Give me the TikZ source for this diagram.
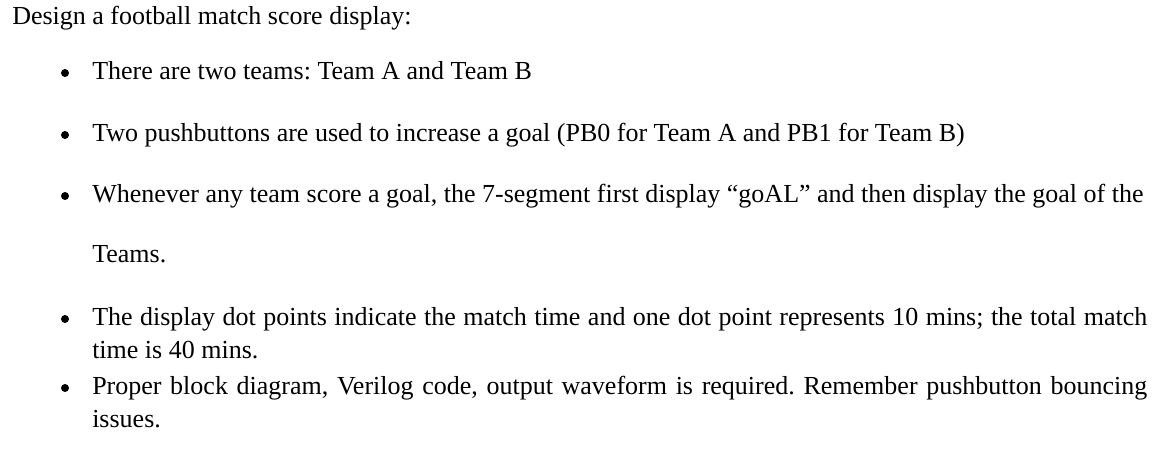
\documentclass[tikz,border=0pt]{standalone}
\usepackage{fontspec}
\setmainfont{Liberation Serif}
\frenchspacing
\begin{document}
\begin{tikzpicture}[x=0.75pt,y=-0.75pt,
  txt/.style={anchor=base west,inner sep=0pt,font=\fontsize{19.5}{24.75}\selectfont},
  par/.style={txt,text width=791.25pt,align=justify},
  bul/.style={circle,fill=black,inner sep=0pt,minimum size=6pt}]
\useasboundingbox (0,0) rectangle (1174,450);
\node[txt] (t0) at (12,24) {Design a football match score display:};
\node[bul] (b1) at (65,73) {};
\node[txt] (t1) at (92,79) {There are two teams: Team A and Team B};
\node[bul] (b2) at (65,135) {};
\node[txt] (t2) at (92,141) {Two pushbuttons are used to increase a goal (PB0 for Team A and PB1 for Team B)};
\node[bul] (b3) at (65,196) {};
\node[txt] (t3) at (92,202) {Whenever any team score a goal, the 7-segment first display “goAL" and then display the goal of the};
\node[txt] (t3b) at (92,262) {Teams.};
\node[bul] (b4) at (65,319) {};
\node[par] (t4) at (92,325) {The display dot points indicate the match time and one dot point represents 10 mins; the total match time is 40 mins.};
\node[bul] (b5) at (65,388) {};
\node[par] (t5) at (92,394) {Proper block diagram, Verilog code, output waveform is required. Remember pushbutton bouncing issues.};
\end{tikzpicture}
\end{document}
